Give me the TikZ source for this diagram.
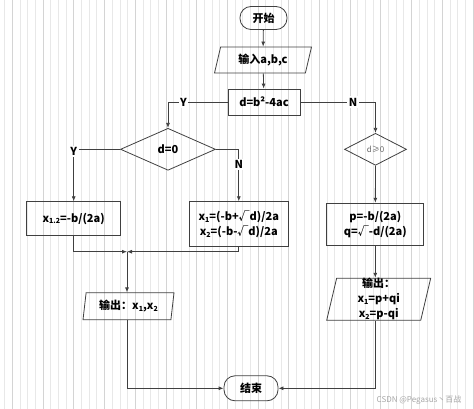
\documentclass[tikz,border=0pt]{standalone}
\usepackage{fontspec}
\setmainfont{Noto Sans CJK SC}
\usetikzlibrary{shapes.geometric,arrows.meta}
\newcommand{\lowsub}[1]{\raisebox{-0.3ex}{\fontsize{7}{8}\selectfont #1}}

\begin{document}
\begin{tikzpicture}[x=1pt,y=-1pt,line width=0.8pt,
  font=\fontsize{11}{15}\selectfont\bfseries,
  term/.style={draw=black!75,rounded corners=11pt,minimum width=#1,minimum height=23pt},
  proc/.style={draw=black!75,align=center,inner sep=0pt},
  inout/.style={draw=black!75,trapezium,trapezium left angle=#1,trapezium right angle=180-#1,
    trapezium stretches body,align=center,inner sep=0pt},
  cond/.style={draw=black!75,diamond,inner sep=0pt},
  arr/.style={draw=black!75,-{Latex[length=5pt,width=4pt]}},
  lbl/.style={fill=white,inner sep=1.5pt}]
\useasboundingbox (0,0) rectangle (474,409);
% background grid
\begin{scope}[shift={(12.3,22.7)}]
\draw[black!9,line width=0.5pt,step=7.675] (-12.3,-22.7) grid (461.7,386.3);
\draw[black!17,line width=0.6pt,step=30.7] (-12.3,-22.7) grid (461.7,386.3);
\end{scope}

% nodes
\node[term=47pt] (start) at (263.5,18) {开始};
\node[inout=63,minimum width=97pt,minimum height=26pt] (input) at (263,60) {输入a,b,c};
\node[proc,minimum width=72pt,minimum height=26pt] (dcalc) at (264,102) {d=b²-4ac};
\node[cond,minimum width=95pt,minimum height=42pt] (eq0) at (168,149.3) {d=0};
\node[cond,minimum width=62pt,minimum height=32pt,font=\fontsize{8}{9}\selectfont,text=black!60] (ge0) at (375.5,149.3) {d≥0};
\node[proc,minimum width=94pt,minimum height=34pt] (rt1) at (73.7,218.7) {x\lowsub{1.2}=-b/(2a)};
\node[proc,minimum width=99pt,minimum height=45pt] (rt2) at (238.8,224.2) {x\lowsub{1}=(-b+√d)/2a\\x\lowsub{2}=(-b-√d)/2a};
\node[proc,minimum width=97pt,minimum height=42pt] (cplx) at (375.3,224.2) {p=-b/(2a)\\q=√-d/(2a)};
\node[inout=75.5,minimum width=91pt,minimum height=27pt] (out1) at (128.5,306.3) {输出：x\lowsub{1},x\lowsub{2}};
\node[inout=76.6,minimum width=104pt,minimum height=42pt] (out2) at (378.7,299.2) {输出：\\x\lowsub{1}=p+qi\\x\lowsub{2}=p-qi};
\node[term=54pt,minimum height=25pt] (stop) at (251,388.3) {结束};
\node[font=\fontsize{8}{9}\selectfont,text=black!35] (mark) at (419,400.5) {CSDN @Pegasus丶百战};
\coordinate (join) at (127,251.7);

% connectors
\draw[arr] (start) -- (input);
\draw[arr] (input) -- (dcalc);
\draw[arr] (dcalc.west) -| (eq0.north) node[pos=0.37,lbl] {Y};
\draw[arr] (dcalc.east) -| (ge0.north) node[pos=0.35,lbl] {N};
\draw[arr] (eq0.west) -| (rt1.north) node[pos=0.52,lbl] {Y};
\draw[arr] (eq0.east) -| (rt2.north) node[pos=0.65,lbl] {N};
\draw[arr] (ge0) -- (cplx);
\draw[arr] (rt1.south) |- (join);
\draw[arr] (rt2.south) |- (join);
\draw[arr] (join) -- (join |- out1.north);
\draw[arr] (cplx) -- (cplx |- out2.north);
\draw[arr] (join |- out1.south) |- (stop.west);
\draw[arr] (cplx |- out2.south) |- (stop.east);
\end{tikzpicture}
\end{document}
